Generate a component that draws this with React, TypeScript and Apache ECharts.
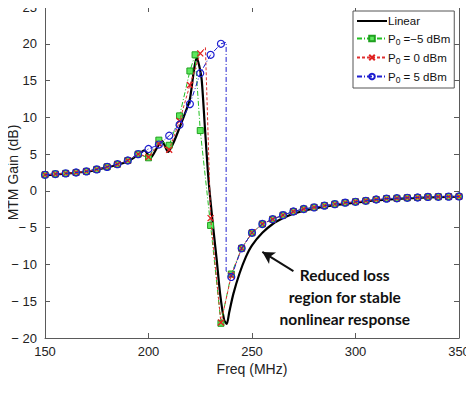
import React, { useEffect, useRef } from "react";
import * as echarts from "echarts";

// ---------- data ----------
const linearFreq = [150, 160, 170, 180, 185, 190, 195, 198, 201, 204, 206.5, 209.5, 212, 215, 218, 220, 222, 223.3, 224.5, 225.7, 227.3, 229, 231.3, 233, 234.6, 236.5, 237.8, 239, 241, 244, 247, 250, 255, 260, 265, 270, 280, 290, 300, 310, 320, 330, 340, 350];
const linearGain = [2.1, 2.35, 2.6, 3.2, 3.55, 4.0, 4.9, 5.5, 4.5, 5.8, 6.8, 5.3, 6.5, 8.6, 10.8, 12.5, 16.5, 18.2, 17.0, 15.1, 8.4, 1.5, -5.1, -9.5, -14.0, -17.5, -18.1, -16.5, -14.0, -11.2, -9.0, -7.4, -5.7, -4.5, -3.7, -3.1, -2.4, -1.95, -1.6, -1.3, -1.1, -0.95, -0.85, -0.8];

const tailFreq = [245, 250, 255, 260, 265, 270, 275, 280, 285, 290, 295, 300, 305, 310, 315, 320, 325, 330, 335, 340, 345, 350];
const tailGain = [-7.8, -5.7, -4.5, -3.85, -3.3, -2.8, -2.46, -2.24, -2.0, -1.8, -1.6, -1.48, -1.35, -1.17, -1.05, -1.0, -0.94, -0.9, -0.82, -0.8, -0.78, -0.76];

const headFreq = [150, 155, 160, 165, 170, 175, 180, 185, 190, 195];
const headGain = [2.19, 2.29, 2.38, 2.5, 2.65, 2.92, 3.27, 3.63, 4.13, 5.0];

const m5Freq = [200, 205, 210, 215, 220, 222.5, 225, 230, 235, 240];
const m5Gain = [4.5, 6.9, 6.2, 10.2, 16.3, 18.5, 8.2, -4.7, -18.0, -11.3];

const p0Freq = [200, 205, 210, 215, 220, 225, 227.5, 230, 235, 240];
const p0Gain = [4.6, 6.4, 5.6, 9.5, 14.4, 18.7, 19.5, -3.7, -17.9, -11.5];
const p0Unmarked = [227.5];

const p5Freq = [200, 205, 210, 215, 220, 225, 230, 235, 237.5, 237.5, 240];
const p5Gain = [5.7, 6.3, 7.5, 9.0, 11.8, 16.0, 18.5, 20.0, 20.2, -10.9, -11.7];
const p5Unmarked = [237.5];

const xTicks = [150, 200, 250, 300, 350];
const yTicks = [-20, -15, -10, -5, 0, 5, 10, 15, 20, 25];

const arrowTail = [270, -10.9];
const arrowHead = [255, -8.3];
const noteLines = ["Reduced loss", "region for stable", "nonlinear response"];
const noteAnchor = [294.8, -11.5];

const seriesNames = ["Linear", "P0 =\u22125 dBm", "P0 = 0 dBm", "P0 = 5 dBm"];

// ---------- helpers ----------
function build(freq: number[], gain: number[], unmarked: number[] = []) {
  const f = [...headFreq, ...freq, ...tailFreq];
  const g = [...headGain, ...gain, ...tailGain];
  return f.map((x, i) =>
    unmarked.includes(x) ? { value: [x, g[i]], symbol: "none" } : { value: [x, g[i]] }
  );
}

const FONT = "'Liberation Sans', Arial, sans-serif";
const AX = "#5a5a5a";

export default function App() {
  const ref = useRef<HTMLDivElement>(null);
  useEffect(() => {
    if (!ref.current) return;
    const chart = echarts.init(ref.current, undefined, { renderer: "svg" });
    const yFmt = (v: number) => (v < 0 ? "\u2212 " + Math.abs(v) : String(v));
    const axisCommon = {
      type: "value" as const,
      axisLine: { show: true, onZero: false, lineStyle: { color: AX, width: 1 } },
      axisTick: { show: true, inside: true, length: 5, lineStyle: { color: AX } },
      splitLine: { show: false },
    };
    chart.setOption({
      animation: false,
      backgroundColor: "#fff",
      grid: { left: 45, right: 15, top: 7, bottom: 55, outerBoundsMode: "none", containLabel: false },
      xAxis: [
        {
          ...axisCommon,
          min: xTicks[0],
          max: xTicks[xTicks.length - 1],
          interval: 50,
          axisLabel: { color: "#222", fontSize: 13, fontFamily: FONT, margin: 7 },
          name: "Freq (MHz)",
          nameLocation: "middle",
          nameGap: 24,
          nameMoveOverlap: false,
          nameTextStyle: { color: "#222", fontSize: 14, fontFamily: FONT },
        },
        {
          ...axisCommon,
          position: "top",
          min: xTicks[0],
          max: xTicks[xTicks.length - 1],
          interval: 50,
          axisLabel: { show: false },
        },
      ],
      yAxis: [
        {
          ...axisCommon,
          min: yTicks[0],
          max: yTicks[yTicks.length - 1],
          interval: 5,
          axisLabel: { color: "#222", fontSize: 13, fontFamily: FONT, margin: 8, formatter: yFmt },
          name: "MTM Gain (dB)",
          nameLocation: "middle",
          nameGap: 25,
          nameMoveOverlap: false,
          nameTextStyle: { color: "#222", fontSize: 14, fontFamily: FONT },
        },
        {
          ...axisCommon,
          position: "right",
          min: yTicks[0],
          max: yTicks[yTicks.length - 1],
          interval: 5,
          axisLabel: { show: false },
        },
      ],
      legend: {
        orient: "vertical",
        left: 353,
        top: 11,
        data: [
          { name: seriesNames[0], itemStyle: { opacity: 0 } },
          seriesNames[1],
          seriesNames[2],
          seriesNames[3],
        ],
        backgroundColor: "#fff",
        borderColor: "#555",
        borderWidth: 1,
        padding: [4, 4, 4, 3],
        itemWidth: 30,
        itemHeight: 7,
        itemGap: 4,
        formatter: (name: string) =>
          name.startsWith("P0") ? `{n|P}{s|0}{n|${name.slice(2)}}` : `{n|${name}}`,
        textStyle: {
          padding: [0, 0, 0, -4],
          rich: {
            n: { fontSize: 11.5, fontFamily: FONT, color: "#111", lineHeight: 14 },
            s: { fontSize: 8.5, fontFamily: FONT, color: "#111", padding: [6, 0, 0, 0], lineHeight: 14 },
          },
        },
      },
      series: [
        {
          name: seriesNames[0],
          type: "line",
          data: linearFreq.map((f, i) => [f, linearGain[i]]),
          showSymbol: false,
          symbol: "none",
          lineStyle: { color: "#000", width: 2.2 },
          itemStyle: { color: "#000" },
          smooth: 0.25,
          z: 2,
          markLine: {
            silent: true,
            symbol: ["none", "arrow"],
            symbolSize: [10, 12],
            label: { show: false },
            lineStyle: { color: "#111", width: 2, type: "solid" },
            data: [[{ coord: arrowTail }, { coord: arrowHead }]],
          },
        },
        {
          name: seriesNames[1],
          type: "line",
          data: build(m5Freq, m5Gain),
          symbol: "rect",
          symbolSize: 6,
          lineStyle: { color: "#22c022", width: 1, type: [5, 2, 1, 2] },
          itemStyle: { color: "#5ee85e", borderColor: "#1fa01f", borderWidth: 1 },
          z: 3,
        },
        {
          name: seriesNames[2],
          type: "line",
          data: build(p0Freq, p0Gain, p0Unmarked),
          symbol: "path://M0,0L10,10M10,0L0,10",
          symbolSize: 6,
          lineStyle: { color: "#e03030", width: 1, type: [3, 2] },
          itemStyle: { color: "rgba(0,0,0,0)", borderColor: "#e02020", borderWidth: 1.3 },
          z: 4,
        },
        {
          name: seriesNames[3],
          type: "line",
          data: build(p5Freq, p5Gain, p5Unmarked),
          symbol: "circle",
          symbolSize: 7,
          lineStyle: { color: "#2020d0", width: 1, type: [5, 2, 1, 2] },
          itemStyle: { color: "rgba(0,0,0,0)", borderColor: "#1c1cd0", borderWidth: 1.2 },
          z: 5,
        },
      ],
    });
    const p = chart.convertToPixel({ gridIndex: 0 }, noteAnchor) as number[];
    chart.setOption({
      graphic: noteLines.map((t, i) => ({
        type: "text",
        x: p[0],
        y: p[1] + i * 22,
        style: {
          text: t,
          fill: "#111",
          font: "bold 15.5px Lato, 'Open Sans', sans-serif",
          align: "center",
          verticalAlign: "middle",
        },
        z: 10,
      })),
    });
    return () => chart.dispose();
  }, []);
  return <div ref={ref} style={{ width: 474, height: 393, margin: -8 }} />;
}
